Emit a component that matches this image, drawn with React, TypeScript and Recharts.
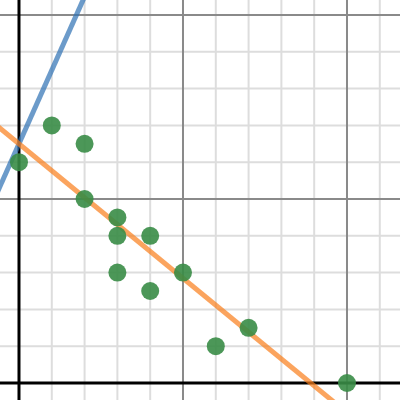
import { ComposedChart, XAxis, YAxis, Scatter, Line, ReferenceLine } from 'recharts';

// grid values (one minor step per unit)
const minorX = [1, 2, 3, 4, 6, 7, 8, 9, 11];
const majorX = [5, 10];
const minorY = [1, 2, 3, 4, 6, 7, 8, 9];
const majorY = [5, 10];

// scatter points
const points = [
  { x: 0, y: 6 },
  { x: 1, y: 7 },
  { x: 2, y: 6.5 },
  { x: 2, y: 5 },
  { x: 3, y: 4.5 },
  { x: 3, y: 4 },
  { x: 4, y: 4 },
  { x: 3, y: 3 },
  { x: 4, y: 2.5 },
  { x: 5, y: 3 },
  { x: 6, y: 1 },
  { x: 7, y: 1.5 },
  { x: 10, y: 0 },
];

// line endpoints
const blueLine = [
  { x: -1, y: 4.5 },
  { x: 3, y: 12.5 },
];
const orangeLine = [
  { x: -1, y: 7.23 },
  { x: 12, y: -2.27 },
];

function Dot(props: any) {
  return <circle cx={props.cx} cy={props.cy} r={9} fill="#388c46" fillOpacity={0.9} />;
}

export default function App() {
  return (
    <div style={{ position: 'fixed', left: 0, top: 0, width: 400, height: 400, background: '#fff' }}>
      <ComposedChart width={400} height={400} margin={{ top: 0, right: 0, bottom: 0, left: 0 }}>
        <XAxis type="number" dataKey="x" domain={[-0.579, 11.616]} allowDataOverflow hide />
        <YAxis type="number" dataKey="y" domain={[-0.462, 10.408]} allowDataOverflow hide />
        {minorX.map((v) => (
          <ReferenceLine key={'mx' + v} x={v} stroke="#dddddd" strokeWidth={2} />
        ))}
        {minorY.map((v) => (
          <ReferenceLine key={'my' + v} y={v} stroke="#dddddd" strokeWidth={2} />
        ))}
        {majorX.map((v) => (
          <ReferenceLine key={'Mx' + v} x={v} stroke="#8a8a8a" strokeWidth={2} />
        ))}
        {majorY.map((v) => (
          <ReferenceLine key={'My' + v} y={v} stroke="#8a8a8a" strokeWidth={2} />
        ))}
        <ReferenceLine x={0} stroke="#000" strokeWidth={3} />
        <ReferenceLine y={0} stroke="#000" strokeWidth={3} />
        <Scatter data={points} shape={Dot} isAnimationActive={false} />
        <Line
          data={blueLine}
          dataKey="y"
          type="linear"
          stroke="#2d70b3"
          strokeOpacity={0.7}
          strokeWidth={5}
          dot={false}
          isAnimationActive={false}
        />
        <Line
          data={orangeLine}
          dataKey="y"
          type="linear"
          stroke="#fa7e19"
          strokeOpacity={0.7}
          strokeWidth={5}
          dot={false}
          isAnimationActive={false}
        />
      </ComposedChart>
    </div>
  );
}
